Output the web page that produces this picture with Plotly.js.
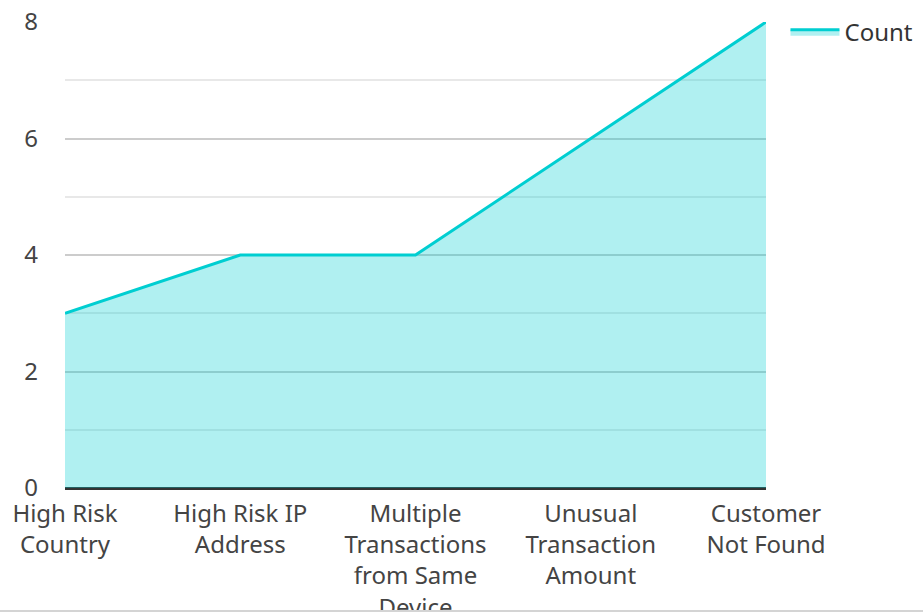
<!DOCTYPE html>
<html>
<head>
<meta charset="utf-8">
<script src="https://cdn.plot.ly/plotly-3.0.1.min.js"></script>
<style>
  html, body { margin: 0; padding: 0; background: #fff; overflow: hidden; }
  #wrap { width: 923px; height: 610px; overflow: hidden; border-bottom: 2px solid #d4d4d4; }
</style>
</head>
<body>
<div id="wrap"><div id="chart"></div></div>
<script>
const categories = [
  "High Risk<br>Country",
  "High Risk IP<br>Address",
  "Multiple<br>Transactions<br>from Same<br>Device",
  "Unusual<br>Transaction<br>Amount",
  "Customer<br>Not Found"
];
const counts = [3, 4, 4, 6, 8];
const seriesName = "Count";
const yTicks = [0, 2, 4, 6, 8];

const trace = {
  type: "scatter",
  mode: "lines",
  x: categories,
  y: counts,
  name: seriesName,
  fill: "tozeroy",
  fillcolor: "rgba(0,206,209,0.31)",
  line: { color: "#00CED1", width: 3 },
  showlegend: true
};

const layout = {
  width: 923,
  height: 650,
  margin: { l: 65, r: 157, t: 22, b: 162, autoexpand: false },
  paper_bgcolor: "#ffffff",
  plot_bgcolor: "#ffffff",
  font: { family: "Noto Sans, Open Sans, sans-serif", size: 24, color: "#444" },
  showlegend: true,
  legend: { xref: "container", yref: "container", x: 0.851, y: 0.985, xanchor: "left", yanchor: "top", itemwidth: 49, font: { size: 24, color: "#333" }, bgcolor: "rgba(0,0,0,0)" },
  xaxis: {
    type: "category",
    range: [0, 4],
    showgrid: false,
    showline: false,
    zeroline: false,
    ticks: "",
    tickangle: 0,
    ticklabelstandoff: 9,
    tickfont: { size: 24, color: "#444" }
  },
  yaxis: {
    range: [0, 8],
    tickvals: yTicks,
    showgrid: true,
    gridcolor: "#cccccc",
    gridwidth: 2,
    zeroline: true,
    zerolinecolor: "#333333",
    zerolinewidth: 3,
    showline: false,
    ticks: "",
    ticklabelstandoff: 26,
    tickfont: { size: 24, color: "#444" },
    minor: { dtick: 1, showgrid: true, gridcolor: "#e8e8e8", gridwidth: 2 }
  }
};

Plotly.newPlot("chart", [trace], layout, { displayModeBar: false, staticPlot: true });
</script>
</body>
</html>
